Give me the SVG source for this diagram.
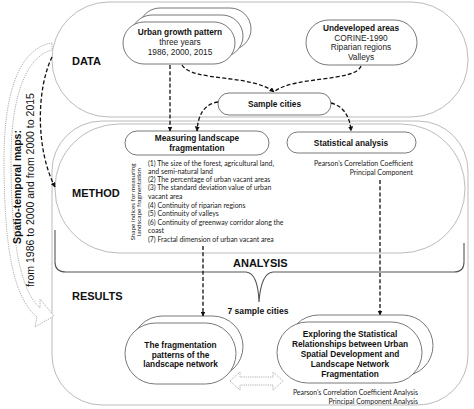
<svg xmlns="http://www.w3.org/2000/svg" width="474" height="409" viewBox="0 0 474 409">
<defs>
<style>
.panel{fill:none;stroke:#b3b3b3;stroke-width:0.9}
.pill{fill:#fff;stroke:#555;stroke-width:0.8}
.con{fill:none;stroke:#111;stroke-width:1.3;stroke-dasharray:4,2.2}
.hollow{fill:#fff;stroke:#9a9a9a;stroke-width:0.8;stroke-dasharray:1.2,1}
.brace{fill:none;stroke:#555;stroke-width:1.1}
.sec{font-family:"Liberation Sans",Arial,sans-serif;font-weight:bold;font-size:11px;fill:#111}
.nb{font-family:"Liberation Sans",Arial,sans-serif;font-weight:bold;font-size:8.3px;fill:#111;text-anchor:middle}
.nr{font-family:"Liberation Sans",Arial,sans-serif;font-size:8.3px;fill:#222;text-anchor:middle}
.sm{font-family:Lato,"Liberation Sans",sans-serif;font-size:6.9px;fill:#222}
.rot{font-family:Lato,"Liberation Sans",sans-serif;font-size:6.3px;fill:#222;text-anchor:middle}
.side{font-family:"Liberation Sans",Arial,sans-serif;font-size:10.5px;fill:#111;text-anchor:middle}
</style>
<marker id="ah" viewBox="0 0 10 10" refX="9" refY="5" markerWidth="5" markerHeight="5" markerUnits="userSpaceOnUse" orient="auto">
<path d="M0,0 L10,5 L0,10 Z" fill="#111"/>
</marker>
</defs>
<rect width="474" height="409" fill="#fff"/>

<g id="panels">
<rect id="data-panel" class="panel" x="52" y="2" width="416" height="115" rx="57" ry="57"/>
<rect id="outer-panel" class="panel" x="52" y="121" width="416" height="284" rx="50" ry="50"/>
<rect id="method-panel" class="panel" x="55" y="124" width="410" height="129" rx="64" ry="64"/>
<path id="analysis-brace" class="brace" d="M55,230 L55,262 Q55,272 66,272 L246,272 Q258,273 259,302 Q261,273 273,272 L454,272 Q464,272 464,262 L464,243"/>
</g>

<g id="labels">
<text class="sec" x="72" y="65">DATA</text>
<text class="sec" x="72" y="197">METHOD</text>
<text class="sec" x="233" y="267">ANALYSIS</text>
<text class="sec" x="72" y="300">RESULTS</text>
<text class="nb" x="258" y="314" style="font-size:8.6px">7 sample cities</text>
</g>

<g id="spatio-temporal">
<path class="hollow" d="M52,43 C25,47 4,80 4,160 C4,250 14,298 37,317 L35,327 L54,316 L40,299 L40,308 C20,290 11,240 11,160 C11,92 28,56 52,50 Z"/>
<text class="side" transform="translate(21,187) rotate(-90)" style="font-weight:bold">Spatio-temporal maps:</text>
<text class="side" transform="translate(34,190) rotate(-90)">from 1986 to 2000 and from 2000 to 2015</text>
</g>

<g id="urban-growth">
<rect class="pill" x="139" y="8" width="112" height="42" rx="21"/>
<rect class="pill" x="131" y="15" width="112" height="42" rx="21"/>
<rect class="pill" x="123" y="22" width="112" height="42" rx="21"/>
<text class="nb" x="180" y="35">Urban growth pattern</text>
<text class="nr" x="180" y="45">three years</text>
<text class="nr" x="180" y="55">1986, 2000, 2015</text>
</g>

<g id="undeveloped">
<rect class="pill" x="306" y="20" width="111" height="45" rx="22.5"/>
<text class="nb" x="361" y="31">Undeveloped areas</text>
<text class="nr" x="361" y="41">CORINE-1990</text>
<text class="nr" x="361" y="50">Riparian regions</text>
<text class="nr" x="361" y="59.5">Valleys</text>
</g>

<g id="sample-cities">
<rect class="pill" x="218" y="93" width="113" height="22" rx="11"/>
<text class="nb" x="274.5" y="106.5">Sample cities</text>
</g>

<g id="measuring">
<rect class="pill" x="125" y="131" width="144" height="24" rx="12"/>
<text class="nb" x="197" y="141">Measuring landscape</text>
<text class="nb" x="197" y="151">fragmentation</text>
<text class="rot" transform="translate(134.5,202) rotate(-90)">Shape indices for measuring</text>
<text class="rot" transform="translate(141,202) rotate(-90)">landscape fragmentation</text>
<text class="sm" x="148" y="165.5">(1) The size of the forest, agricultural land,</text>
<text class="sm" x="148" y="174">and semi-natural land</text>
<text class="sm" x="148" y="182">(2) The percentage of urban vacant areas</text>
<text class="sm" x="148" y="190">(3) The standard deviation value of urban</text>
<text class="sm" x="148" y="198.5">vacant area</text>
<text class="sm" x="148" y="207.5">(4) Continuity of riparian regions</text>
<text class="sm" x="148" y="216">(5) Continuity of valleys</text>
<text class="sm" x="148" y="225">(6) Continuity of greenway corridor along the</text>
<text class="sm" x="148" y="233">coast</text>
<text class="sm" x="148" y="241.5">(7) Fractal dimension of urban vacant area</text>
</g>

<g id="statistical">
<rect class="pill" x="287" y="132" width="129" height="21" rx="10.5"/>
<text class="nb" x="351" y="145.5">Statistical analysis</text>
<text class="sm" x="413" y="165.5" text-anchor="end">Pearson’s Correlation Coefficient</text>
<text class="sm" x="413" y="174.5" text-anchor="end">Principal Component</text>
</g>

<g id="fragmentation-patterns">
<rect class="pill" x="132" y="316" width="111" height="61" rx="30.5"/>
<rect class="pill" x="125" y="323" width="111" height="61" rx="30.5"/>
<text class="nb" x="180.5" y="348">The fragmentation</text>
<text class="nb" x="180.5" y="357.5">patterns of the</text>
<text class="nb" x="180.5" y="367">landscape network</text>
</g>

<g id="exploring">
<rect class="pill" x="288" y="315" width="145" height="61" rx="30.5"/>
<rect class="pill" x="277" y="322" width="145" height="61" rx="30.5"/>
<text class="nb" x="350" y="337">Exploring the Statistical</text>
<text class="nb" x="350" y="347">Relationships between Urban</text>
<text class="nb" x="350" y="357">Spatial Development and</text>
<text class="nb" x="350" y="367">Landscape Network</text>
<text class="nb" x="350" y="377">Fragmentation</text>
<text class="sm" x="418" y="395" text-anchor="end">Pearson’s Correlation Coefficient  Analysis</text>
<text class="sm" x="418" y="404" text-anchor="end">Principal Component Analysis</text>
</g>

<g id="connectors">
<path class="con" d="M52,57 C36,90 36,150 55,187" marker-end="url(#ah)"/>
<path class="con" d="M182,65 C192,82 252,74 274,92" marker-end="url(#ah)"/>
<path class="con" d="M361,66 C356,82 292,76 274,92"/>
<path class="con" d="M170,65 L170,131" marker-end="url(#ah)"/>
<path class="con" d="M218,102 C204,104 198,115 197,131" marker-end="url(#ah)"/>
<path class="con" d="M331,103 C343,106 350,116 351,131" marker-end="url(#ah)"/>
<path class="con" d="M203,246 L203,316" marker-end="url(#ah)"/>
<path class="con" d="M380,180 L380,315" marker-end="url(#ah)"/>
<path class="hollow" d="M230,381 L240,372 L240,377 L273,377 L273,372 L283,381 L273,390 L273,385 L240,385 L240,390 Z"/>
</g>
</svg>
